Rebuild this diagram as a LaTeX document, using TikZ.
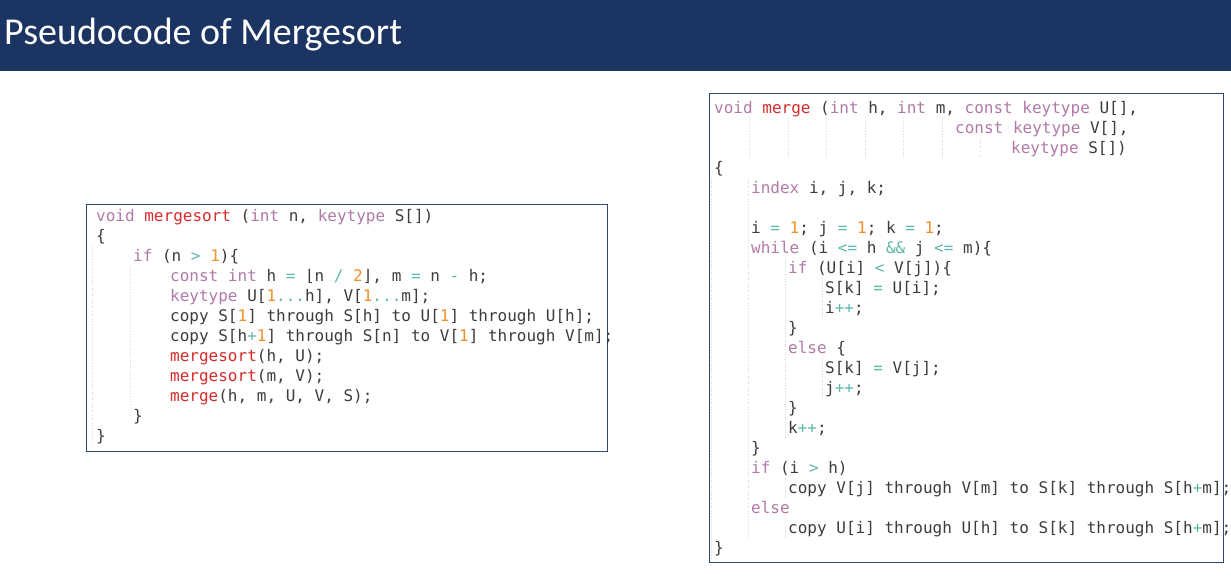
\documentclass[tikz,border=0pt]{standalone}
\usepackage{fontspec}
\setmainfont{Carlito}
\newfontfamily\codefont{DejaVu Sans Mono}
\definecolor{navy}{HTML}{1B3461}
\definecolor{kw}{HTML}{B07AA8}
\definecolor{rd}{HTML}{D62A2A}
\definecolor{nm}{HTML}{F0902A}
\definecolor{op}{HTML}{5FB8A8}
\definecolor{tx}{HTML}{3C3C3C}
\definecolor{bx}{HTML}{2E4775}
\newcommand{\K}[1]{\textcolor{kw}{#1}}
\newcommand{\R}[1]{\textcolor{rd}{#1}}
\newcommand{\N}[1]{\textcolor{nm}{#1}}
\newcommand{\Op}[1]{\textcolor{op}{#1}}
\tikzset{
  code/.style={anchor=base west,inner sep=0pt,font=\codefont\fontsize{16pt}{20pt}\selectfont,text=tx},
  codebox/.style={draw=bx,line width=0.9pt},
  guide/.style={draw=black!15,dotted,line width=0.6pt}
}
\begin{document}
\begin{tikzpicture}[x=1pt,y=-1pt]
\useasboundingbox (0,0) rectangle (1231,584);
\fill[navy] (0,0) rectangle (1231,71);
\node[anchor=base west,inner sep=0pt,text=white,font=\fontsize{38pt}{44pt}\selectfont] (title) at (4,44) {Pseudocode of Mergesort};
% left box
\draw[codebox] (86,204) rectangle (607,451);
\draw[guide] (92,246) -- (92,446);
\draw[guide] (130,266) -- (130,406);
\node[code] (l1) at (96,221) {\K{void} \R{mergesort} (\K{int} n, \K{keytype} S[])};
\node[code] (l2) at (96,241) {\{};
\node[code] (l3) at (133,261) {\K{if} (n \Op{>} \N{1})\{};
\node[code] (l4) at (170,281) {\K{const} \K{int} h \Op{=} ⌊n \Op{/} \N{2}⌋, m \Op{=} n \Op{-} h;};
\node[code] (l5) at (170,301) {\K{keytype} U[\N{1}\Op{...}h], V[\N{1}\Op{...}m];};
\node[code] (l6) at (170,321) {copy S[\N{1}] through S[h] to U[\N{1}] through U[h];};
\node[code] (l7) at (170,341) {copy S[h\Op{+}\N{1}] through S[n] to V[\N{1}] through V[m];};
\node[code] (l8) at (170,361) {\R{mergesort}(h, U);};
\node[code] (l9) at (170,381) {\R{mergesort}(m, V);};
\node[code] (l10) at (170,401) {\R{merge}(h, m, U, V, S);};
\node[code] (l11) at (133,421) {\}};
\node[code] (l12) at (96,441) {\}};
% right box
\draw[codebox] (709,93) rectangle (1223,562);
\foreach \k in {1,...,6} \draw[guide] ({711+\k*38.5},118) -- ({711+\k*38.5},158);
\draw[guide] (980,138) -- (980,158);
\draw[guide] (711,178) -- (711,558);
\draw[guide] (748,178) -- (748,538);
\draw[guide] (785,258) -- (785,438);
\draw[guide] (822,278) -- (822,318);
\draw[guide] (822,358) -- (822,398);
\draw[guide] (785,478) -- (785,498);
\draw[guide] (785,518) -- (785,538);
\node[code] (r1) at (714,113) {\K{void} \R{merge} (\K{int} h, \K{int} m, \K{const} \K{keytype} U[],};
\node[code] (r2) at (955,133) {\K{const} \K{keytype} V[],};
\node[code] (r3) at (1011,153) {\K{keytype} S[])};
\node[code] (r4) at (714,173) {\{};
\node[code] (r5) at (751,193) {\K{index} i, j, k;};
\node[code] (r6) at (751,233) {i \Op{=} \N{1}; j \Op{=} \N{1}; k \Op{=} \N{1};};
\node[code] (r7) at (751,253) {\K{while} (i \Op{<=} h \Op{\&\&} j \Op{<=} m)\{};
\node[code] (r8) at (788,273) {\K{if} (U[i] \Op{<} V[j])\{};
\node[code] (r9) at (825,293) {S[k] \Op{=} U[i];};
\node[code] (r10) at (825,313) {i\Op{++};};
\node[code] (r11) at (788,333) {\}};
\node[code] (r12) at (788,353) {\K{else} \{};
\node[code] (r13) at (825,373) {S[k] \Op{=} V[j];};
\node[code] (r14) at (825,393) {j\Op{++};};
\node[code] (r15) at (788,413) {\}};
\node[code] (r16) at (788,433) {k\Op{++};};
\node[code] (r17) at (751,453) {\}};
\node[code] (r18) at (751,473) {\K{if} (i \Op{>} h)};
\node[code] (r19) at (788,493) {copy V[j] through V[m] to S[k] through S[h\Op{+}m];};
\node[code] (r20) at (751,513) {\K{else}};
\node[code] (r21) at (788,533) {copy U[i] through U[h] to S[k] through S[h\Op{+}m];};
\node[code] (r22) at (714,553) {\}};
\end{tikzpicture}
\end{document}
